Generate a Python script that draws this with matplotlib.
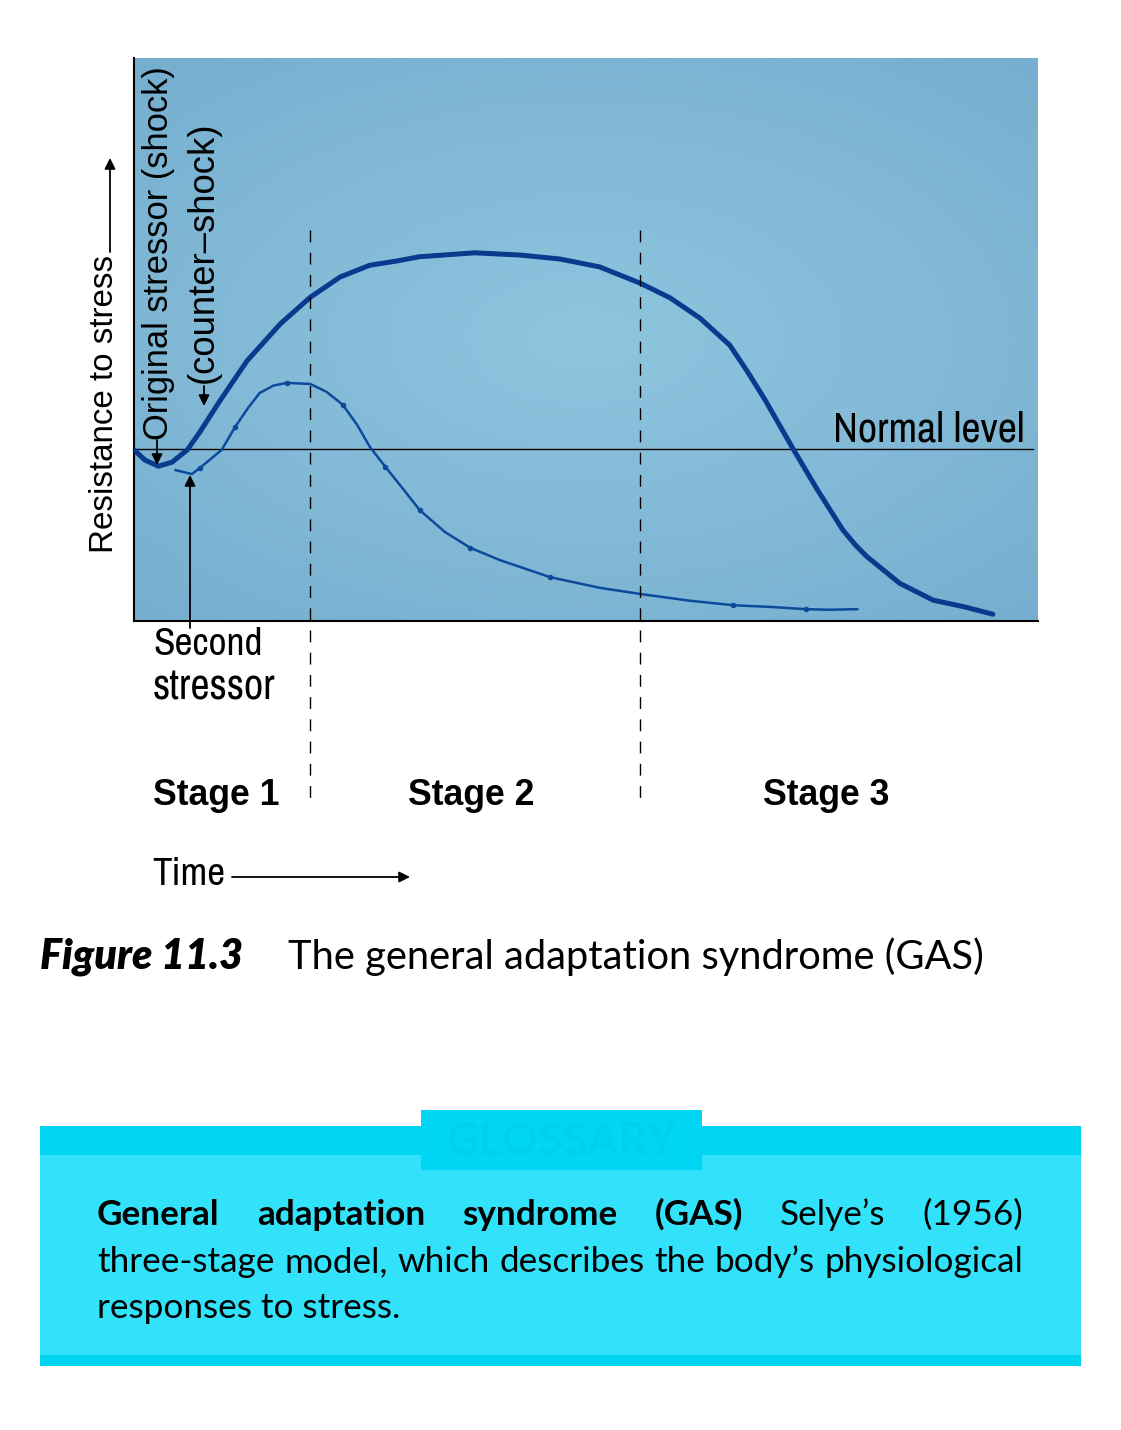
import numpy as np
import matplotlib
matplotlib.use("Agg")
import matplotlib.pyplot as plt
from matplotlib import font_manager
from matplotlib.font_manager import FontProperties
from matplotlib.patches import Rectangle

# resistance curve (stage 1 -> 3), time and resistance in arbitrary units 0..100
main_t = [0.0, 1.2, 2.7, 4.2, 5.9, 7.3, 9.5, 12.5, 16.2, 19.5, 22.8, 26.1, 28.9, 31.6, 37.7,
          42.7, 47.1, 51.5, 56.0, 59.3, 62.6, 65.9, 67.9, 69.8, 72.9, 75.6, 78.4, 79.8, 81.1,
          84.7, 88.4, 91.9, 95.0]
main_r = [30.4, 28.6, 27.5, 28.2, 30.4, 33.6, 39.1, 46.2, 52.8, 57.5, 61.1, 63.2, 63.9, 64.7, 65.4,
          65.0, 64.3, 62.9, 60.0, 57.4, 53.8, 49.0, 44.2, 39.3, 30.6, 23.3, 16.2, 13.5, 11.4,
          6.7, 3.7, 2.5, 1.2]

# response to the second stressor
second_t = [4.6, 6.4, 7.3, 9.7, 11.2, 12.6, 13.9, 15.4, 16.9, 19.5, 21.3, 23.1, 24.7, 26.1,
            27.8, 29.4, 31.6, 34.4, 37.2, 40.5, 46.0, 51.5, 56.0, 61.5, 66.3, 70.4, 74.3,
            77.0, 80.0]
second_r = [26.8, 26.1, 27.2, 30.4, 34.5, 37.8, 40.5, 41.8, 42.3, 42.1, 40.7, 38.4, 34.8, 30.9,
            27.4, 24.2, 19.7, 15.8, 13.0, 10.8, 7.8, 5.9, 4.8, 3.6, 2.8, 2.5, 2.1,
            2.0, 2.1]
second_dots = [2, 4, 8, 11, 14, 16, 18, 20, 24, 26]

normal_level = 30.5
stage_edges = [19.5, 56.0]
stage_labels = ["Stage 1", "Stage 2", "Stage 3"]

# pick a narrow sans face if one is installed (the labels use a condensed grotesque)
narrow_file = None
best = 0
for f in font_manager.fontManager.ttflist:
    if "Mono" in f.name or "Serif" in f.name or f.style != "normal":
        continue
    if f.weight not in (400, "normal", "regular", "book"):
        continue
    score = 0
    if "Narrow" in f.name:
        score = 3
    elif "ondensed" in str(f.stretch) or "Condensed" in f.name:
        score = 2
    if score > best:
        best, narrow_file = score, f.fname

def narrow_fp():
    if narrow_file:
        return FontProperties(fname=narrow_file)
    return FontProperties(family="Liberation Sans")

sans = "Liberation Sans"
book = "Lato"

W, H = 1121, 1430
fig = plt.figure(figsize=(W / 100, H / 100), dpi=100, facecolor="white")

# ---- main chart
ax = fig.add_axes([134 / W, 1 - 621 / H, 904 / W, 563 / H])
ax.set_xlim(0, 100)
ax.set_ylim(0, 100)
gx, gy = np.meshgrid(np.linspace(-1, 1, 200), np.linspace(-1, 1, 200))
dist = np.sqrt(gx**2 * 0.8 + gy**2)
bg = matplotlib.colors.LinearSegmentedColormap.from_list("bg", ["#8ec6df", "#76aecf"])
ax.imshow(dist, cmap=bg, extent=[0, 1, 0, 1], transform=ax.transAxes, aspect="auto", zorder=0)

ax.plot([0, 99.4], [normal_level] * 2, color="black", lw=1.0, zorder=2)
ax.plot(second_t, second_r, color="#0c4a9c", lw=1.8, marker="o", ms=3,
        markevery=second_dots, solid_joinstyle="round", zorder=3)
ax.plot(main_t, main_r, color="#083a8e", lw=3.6, solid_joinstyle="round",
        solid_capstyle="round", zorder=4)
for e in stage_edges:
    ax.plot([e, e], [69.4, -32.7], color="black", lw=1.0, dashes=(8.5, 7.5),
            clip_on=False, zorder=5)

for s in ["top", "right"]:
    ax.spines[s].set_visible(False)
for s in ["left", "bottom"]:
    ax.spines[s].set_linewidth(1.5)
ax.set_xticks([])
ax.set_yticks([])

# ---- overlay in pixel units for labels and the glossary box
ov = fig.add_axes([0, 0, 1, 1])
ov.set_xlim(0, W)
ov.set_ylim(H, 0)
ov.axis("off")
renderer = fig.canvas.get_renderer()

def arrow(x0, y0, x1, y1):
    ov.annotate("", xy=(x1, y1), xytext=(x0, y0),
                arrowprops=dict(arrowstyle="-|>", color="black", lw=1.3,
                                mutation_scale=16, shrinkA=0, shrinkB=0))

def fit(t, length):
    bb = t.get_window_extent(renderer)
    w = bb.height if t.get_rotation() == 90 else bb.width
    t.set_fontsize(t.get_fontsize() * length / w)

t = ov.text(113, 553, "Resistance to stress", rotation=90, rotation_mode="anchor",
            ha="left", va="baseline", fontsize=23, family=sans)
fit(t, 298)
arrow(110, 252, 110, 158)

t = ov.text(168, 440, "Original stressor (shock)", rotation=90, rotation_mode="anchor",
            ha="left", va="baseline", fontsize=25, family=sans)
fit(t, 375)
arrow(157, 440, 157, 465)

t = ov.text(213, 383, "(counter\u2013shock)", rotation=90, rotation_mode="anchor",
            ha="left", va="baseline", fontsize=25, family=sans)
fit(t, 262)
arrow(204, 386, 204, 406)

t = ov.text(1025, 442, "Normal level", ha="right", va="baseline",
            fontproperties=narrow_fp(), fontsize=28)
fit(t, 192)

t = ov.text(153, 655, "Second", ha="left", va="baseline", fontproperties=narrow_fp(), fontsize=26)
fit(t, 109)
t = ov.text(153, 700, "stressor", ha="left", va="baseline", fontproperties=narrow_fp(), fontsize=26)
fit(t, 123)
arrow(190, 628, 190, 475)

for lab, x in zip(stage_labels, [153, 408, 763]):
    t = ov.text(x, 805, lab, ha="left", va="baseline", fontsize=26,
                fontweight="bold", family=sans)
    fit(t, 127)

t = ov.text(152, 885, "Time", ha="left", va="baseline", fontproperties=narrow_fp(), fontsize=26)
fit(t, 73)
arrow(232, 877, 410, 877)

# ---- caption
t = ov.text(40, 969, "Figure 11.3", ha="left", va="baseline", fontsize=29,
            fontweight="heavy", fontstyle="italic", family=book)
fit(t, 203)
t = ov.text(288, 969, "The general adaptation syndrome (GAS)", ha="left", va="baseline",
            fontsize=29, family=book)
fit(t, 697)

# ---- glossary box
ov.add_patch(Rectangle((40, 1126), 1041, 240, color="#00d4f0", lw=0))
ov.add_patch(Rectangle((40, 1155), 1041, 200, color="#32e2fa", lw=0))
ov.add_patch(Rectangle((421, 1110), 281, 60, color="#00d6f3", lw=0))
t = ov.text(561, 1155, "GLOSSARY", ha="center", va="baseline", fontsize=29,
            fontweight="bold", family=book, color="#00cfee")
fit(t, 230)

t = ov.text(97, 1318, "responses to stress.", ha="left", va="baseline", fontsize=21, family=book)
fit(t, 303)
body_size = t.get_fontsize()

def justify(words, bold, y, x0=97, x1=1023):
    arts = [ov.text(0, y, w, ha="left", va="baseline", fontsize=body_size, family=book,
                    fontweight="bold" if b else "normal") for w, b in zip(words, bold)]
    widths = [a.get_window_extent(renderer).width for a in arts]
    gap = (x1 - x0 - sum(widths)) / (len(arts) - 1)
    x = x0
    for a, w in zip(arts, widths):
        a.set_x(x)
        x += w + gap

justify(["General", "adaptation", "syndrome", "(GAS)", "Selye\u2019s", "(1956)"],
        [1, 1, 1, 1, 0, 0], 1225)
justify("three-stage model, which describes the body\u2019s physiological".split(),
        [0] * 8, 1272)

fig.savefig("out.png", dpi=100)
